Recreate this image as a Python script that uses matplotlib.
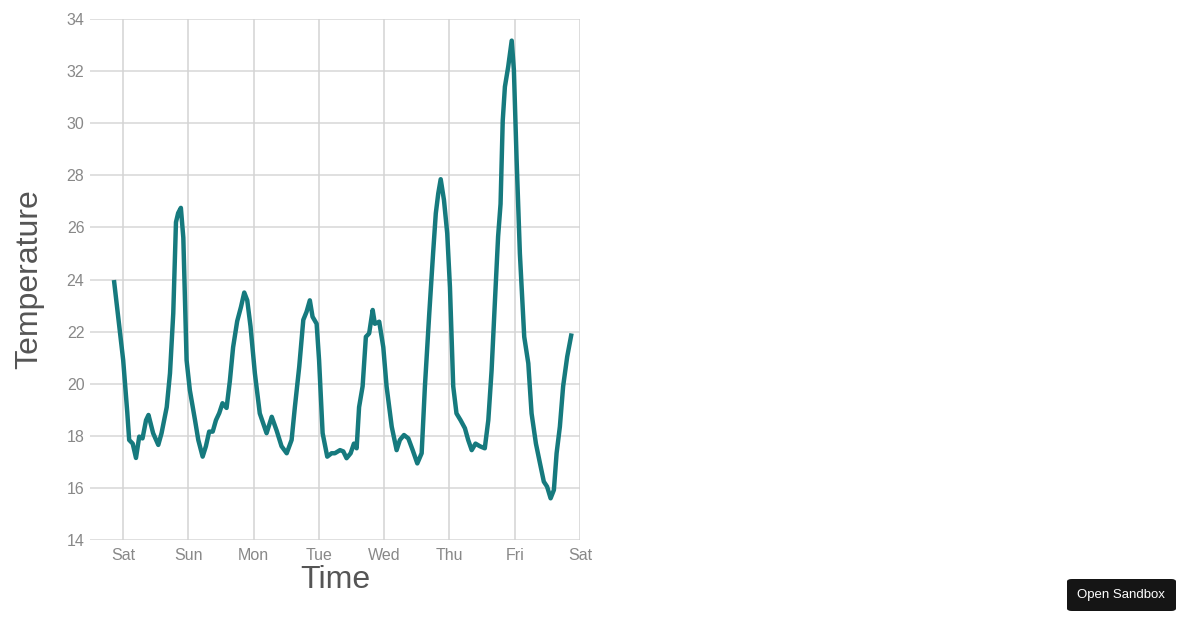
import matplotlib
matplotlib.use('Agg')
import matplotlib.pyplot as plt
from matplotlib.patches import FancyBboxPatch

plt.rcParams['font.family'] = ['Liberation Sans', 'DejaVu Sans']

# hours since the first Saturday 00:00, temperature readings
hours = [-3.3, 0.1, 1.6, 2.3, 3.6, 4.8, 6.0, 7.2, 8.5, 9.4, 11.1, 13.0, 14.2, 16.1,
         17.3, 18.5, 19.5, 20.3, 21.3, 22.2, 23.4, 24.6, 26.5, 27.7, 29.3, 30.5,
         31.7, 33.0, 34.2, 35.4, 36.6, 38.1, 39.3, 40.5, 42.0, 43.4, 44.6, 45.7,
         46.9, 48.5, 50.3, 52.8, 54.7, 56.5, 58.3, 60.2, 62.0, 63.2, 64.8, 66.3,
         67.5, 68.7, 69.7, 71.2, 72.1, 73.4, 75.1, 76.7, 77.9, 79.8, 81.0, 82.2,
         83.7, 84.9, 85.9, 86.8, 88.1, 89.3, 90.5, 91.8, 92.6, 94.2, 95.7, 96.9,
         98.8, 100.6, 101.8, 103.3, 104.9, 106.5, 108.2, 109.8, 111.0, 112.6,
         114.0, 115.0, 115.9, 116.8, 118.0, 119.2, 120.2, 121.4, 122.6, 124.1,
         125.7, 126.9, 128.2, 129.6, 131.2, 133.0, 134.3, 135.5, 136.7, 137.9,
         138.8, 139.6, 140.4, 141.6, 142.9, 143.7, 144.7, 145.9, 147.5, 149.0,
         150.2, 151.8, 153.3, 154.7, 155.9, 157.2, 158.4, 159.4, 160.6, 161.8,
         163.3, 164.9]
temps = [23.98, 20.9, 18.9, 17.84, 17.7, 17.15, 17.97, 17.9, 18.6, 18.8, 18.1,
         17.65, 18.1, 19.1, 20.4, 22.7, 26.2, 26.55, 26.75, 25.6, 20.9, 19.75,
         18.6, 17.84, 17.2, 17.6, 18.16, 18.16, 18.6, 18.87, 19.25, 19.07, 20.1,
         21.4, 22.4, 22.95, 23.5, 23.2, 22.2, 20.4, 18.86, 18.1, 18.73, 18.2,
         17.6, 17.33, 17.84, 19.1, 20.65, 22.45, 22.76, 23.2, 22.57, 22.3, 20.9,
         18.1, 17.2, 17.33, 17.33, 17.45, 17.4, 17.14, 17.33, 17.7, 17.52, 19.1,
         19.9, 21.8, 21.93, 22.83, 22.3, 22.38, 21.4, 19.9, 18.35, 17.45, 17.84,
         18.03, 17.9, 17.45, 16.94, 17.33, 19.9, 22.7, 25.0, 26.54, 27.3, 27.85,
         27.05, 25.77, 23.7, 19.9, 18.86, 18.6, 18.29, 17.84, 17.45, 17.7, 17.6,
         17.52, 18.6, 20.5, 23.1, 25.65, 26.9, 30.1, 31.4, 32.16, 33.17, 32.04,
         28.6, 25.0, 21.8, 20.78, 18.86, 17.7, 16.94, 16.24, 16.05, 15.6, 15.92,
         17.33, 18.35, 19.9, 21.04, 21.93]

day_ticks = [0, 24, 48, 72, 96, 120, 144, 168]
day_labels = ['Sat', 'Sun', 'Mon', 'Tue', 'Wed', 'Thu', 'Fri', 'Sat']
temp_ticks = list(range(14, 35, 2))

fig = plt.figure(figsize=(12, 6.3), dpi=100)
ax = fig.add_axes([90 / 1200, 1 - 540 / 630, 490 / 1200, 521 / 630])

ax.plot(hours, temps, color='#167a7e', lw=3.2, solid_joinstyle='round',
        solid_capstyle='butt', zorder=3)

ax.set_xlim(-12.1, 168)
ax.set_ylim(14, 34)
ax.set_xticks(day_ticks)
ax.set_xticklabels(day_labels)
ax.set_yticks(temp_ticks)

for t in temp_ticks:
    ax.axhline(t, color='#dddddd', lw=1.3, zorder=1)
for d in day_ticks:
    ax.axvline(d, color='#d3d3d3', lw=1.1, zorder=1)

for s in ax.spines.values():
    s.set_visible(False)
ax.tick_params(length=0, labelsize=11.5, colors='#888888')
ax.tick_params(axis='x', pad=6)
ax.tick_params(axis='y', pad=4)

fig.text(29 / 1200, 1 - 279 / 630, 'Temperature', rotation=90, ha='center',
         va='center', fontsize=23, color='#555555')
fig.text(335 / 1200, 1 - 580 / 630, 'Time', ha='center', va='center',
         fontsize=23, color='#555555')

# "Open Sandbox" button in the corner
btn = FancyBboxPatch((1067 / 1200, 1 - 611 / 630), 109 / 1200, 32 / 630,
                     boxstyle='round,pad=0,rounding_size=0.004',
                     transform=fig.transFigure, facecolor='#151515',
                     edgecolor='none')
fig.patches.append(btn)
fig.text(1121 / 1200, 1 - 595 / 630, 'Open Sandbox', ha='center', va='center',
         fontsize=9.5, color='white')

fig.savefig('out.png', dpi=100)
